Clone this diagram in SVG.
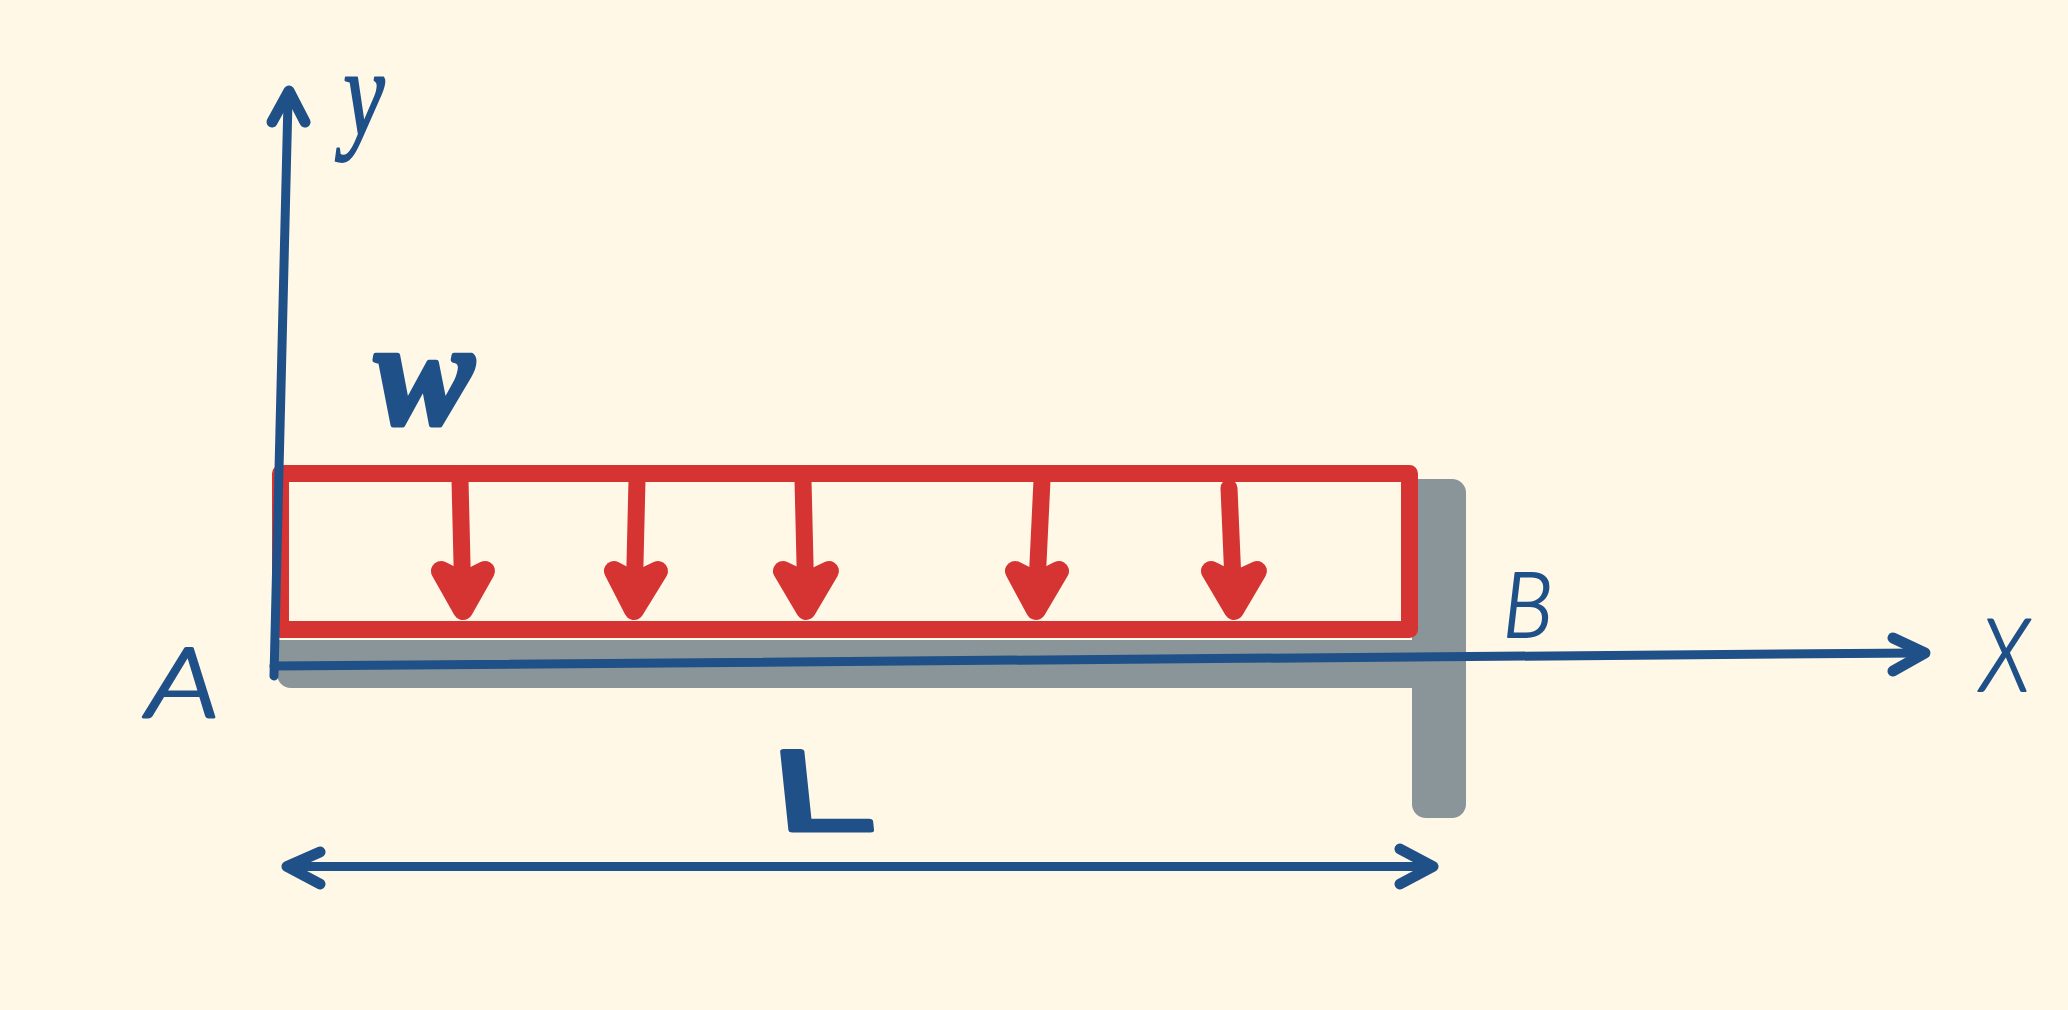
<svg xmlns="http://www.w3.org/2000/svg" width="2068" height="1010" viewBox="0 0 2068 1010">
<style>
.bl{fill:none;stroke:#1f5088;stroke-linecap:round;stroke-linejoin:round;stroke-width:9}
.hd{fill:none;stroke:#1f5088;stroke-linecap:round;stroke-linejoin:round;stroke-width:11}
.sh{fill:none;stroke:#d63333;stroke-width:17;stroke-linecap:round}
.wg{fill:#d63333;stroke:#d63333;stroke-width:20;stroke-linecap:round;stroke-linejoin:round}
.lb{fill:#1f5088;stroke:#1f5088;stroke-linejoin:round;text-anchor:middle}
.hand{font-family:"Lato","Liberation Sans",sans-serif;font-style:italic;font-weight:300}
.curl{font-family:"Liberation Serif",serif;font-style:italic}
</style>
<rect width="2068" height="1010" fill="#fff8e7"/>
<g id="beam"><path d="M277 640V674a14 14 0 0 0 14 14H1412V804a14 14 0 0 0 14 14H1452a14 14 0 0 0 14-14V493a14 14 0 0 0-14-14H1412V640Z" fill="#8a9599"/></g>
<g id="load">
<path d="M280.500 473.500H1409.500V629.500H280.500Z" fill="none" stroke="#d63333" stroke-width="17" stroke-linejoin="round"/>
<path class="sh" d="M460 480L463 605"/><path class="wg" d="M441 571L463 610L485 571L463 582Z"/>
<path class="sh" d="M637 480L634 605"/><path class="wg" d="M614 571L634 610L658 571L635 582Z"/>
<path class="sh" d="M803 480L806 605"/><path class="wg" d="M783 571L806 610L829 571L806 582Z"/>
<path class="sh" d="M1042 480L1036 605"/><path class="wg" d="M1015 571L1036 610L1059 571L1037 582Z"/>
<path class="sh" d="M1229 488L1234 605"/><path class="wg" d="M1211 571L1234 610L1257 571L1233 582Z"/>
</g>
<g id="connectors">
<path class="bl" d="M274 676L288 100"/><path class="hd" d="M272 122L289 91L305 122"/>
<path class="bl" d="M274 666L1920 653"/><path class="hd" d="M1893 638L1925 653L1893 671"/>
<path class="bl" d="M290 866.500H1430"/><path class="hd" d="M320 852L287 866.500L320 884M1400 849L1433 866.500L1400 884"/>
</g>
<g id="label-y"><text class="lb curl" transform="translate(364 135) scale(.75 1)" font-size="124" stroke-width="2">y</text></g>
<g id="label-w"><text class="lb curl" transform="translate(424 424)" font-size="148" font-weight="700" stroke-width="5">w</text></g>
<g id="label-A"><text class="lb hand" transform="translate(183 717) scale(1.25 1)" font-size="96" stroke-width="3">A</text></g>
<g id="label-B"><text class="lb hand" transform="translate(1528 637) scale(.95 1)" font-size="90" stroke-width="2">B</text></g>
<g id="label-X"><text class="lb hand" transform="translate(2005 691) scale(.85 1)" font-size="100" stroke-width="2">X</text></g>
<g id="label-L"><text class="lb" transform="translate(827 830) skewX(6) scale(1.55 1)" font-family="'Liberation Sans',sans-serif" font-size="114" stroke-width="5">L</text></g>
</svg>
